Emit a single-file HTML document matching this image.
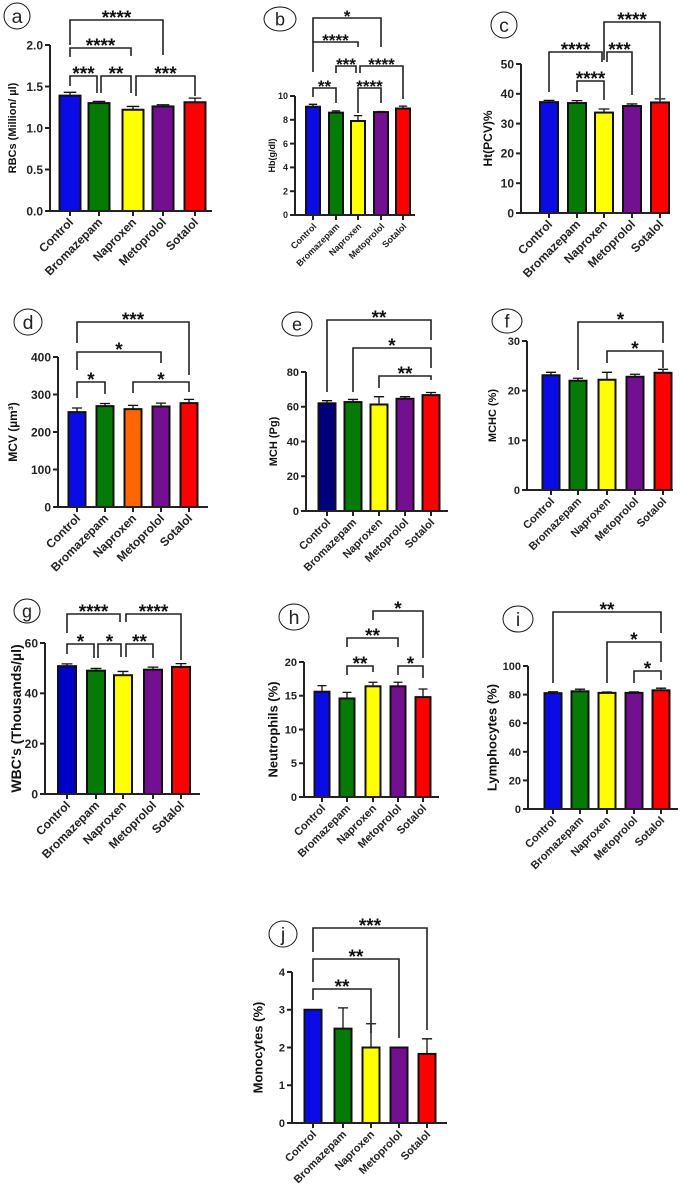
<!DOCTYPE html>
<html><head><meta charset="utf-8">
<style>
html,body{margin:0;padding:0;background:#fff;}
svg{display:block;font-family:"Liberation Sans",Arial,sans-serif;}
</style></head>
<body>
<svg id="fig" width="685" height="1194" viewBox="0 0 685 1194" xmlns="http://www.w3.org/2000/svg"></svg>
<script>
const categories = ["Control","Bromazepam","Naproxen","Metoprolol","Sotalol"];
const aVals=[1.39,1.30,1.22,1.26,1.31], aErrs=[0.04,0.02,0.04,0.02,0.05];
const bVals=[9.1,8.6,7.9,8.65,8.95], bErrs=[0.2,0.15,0.45,0.05,0.2];
const cVals=[37.2,36.9,33.7,35.9,37.1], cErrs=[0.6,0.8,1.2,0.7,1.2];
const dVals=[253,269,261,268,277], dErrs=[11,7,10,9,10];
const eVals=[62,62.7,61.3,64.6,66.7], eErrs=[1.5,1.5,4.5,1.2,1.5];
const fVals=[23.1,22.0,22.2,22.8,23.6], fErrs=[0.6,0.5,1.5,0.5,0.7];
const gVals=[50.8,49.0,47.2,49.4,50.5], gErrs=[0.9,0.9,1.5,1.0,1.3];
const hVals=[15.6,14.6,16.4,16.4,14.8], hErrs=[0.9,0.9,0.6,0.6,1.2];
const iVals=[81.0,82.3,81.2,81.2,83.0], iErrs=[1.0,1.5,0.6,0.7,1.5];
const jVals=[3.0,2.5,2.0,2.0,1.83], jErrs=[0,0.55,0.63,0,0.4];

const BLUE="#0b0be6",GREEN="#067a06",YEL="#ffff00",PUR="#730f91",RED="#ff0000";
const NS="http://www.w3.org/2000/svg";
const svg=document.getElementById('fig');
function mk(tag,attrs,parent){const e=document.createElementNS(NS,tag);for(const k in attrs)e.setAttribute(k,attrs[k]);(parent||svg).appendChild(e);return e;}

const panels=[
 {id:'a',vals:aVals,errs:aErrs,max:2,step:0.5,dec:1,x0:50,x1:212,yT:45,yB:211,cx:[70,99,133,163,195],bw:21,tf:12,cf:12,title:'RBCs (Million/ µl)',tx:12,ttf:11,circ:[17,16,13,13],
  colors:[BLUE,GREEN,YEL,PUR,RED],sf:19,
  br:[[0,3,20,'****',45,55,0,0],[0,2,48,'****',57,56,0,-2],[0,1,76,'***',86,93,0,-2],[1,2,76,'**',93,93,2,-2],[2,4,76,'***',96,96,3,0]]},
 {id:'b',vals:bVals,errs:bErrs,max:10,step:2,dec:0,x0:295,x1:415,yT:96,yB:215,cx:[313,336,358,381,403],bw:14,tf:9,cf:9,title:'Hb(g/dl)',tx:272,ttf:9,circ:[280,19,16,12],
  colors:[BLUE,GREEN,YEL,PUR,RED],sf:17,
  br:[[0,3,18,'*',42,47,0,0],[0,2,42,'****',72,47,0,0],[1,2,66,'***',73,73,0,-2],[2,4,66,'****',73,99,2,0],[0,1,88,'**',97,103,0,0],[2,3,88,'****',113,103,0,0]]},
 {id:'c',vals:cVals,errs:cErrs,max:50,step:10,dec:0,x0:521,x1:668,yT:64,yB:213,cx:[549,577,604,632,660],bw:18,tf:12,cf:12,title:'Ht(PCV)%',tx:488,ttf:12,circ:[504,25,13,13],
  colors:[BLUE,GREEN,YEL,PUR,RED],sf:19,
  br:[[2,4,22,'****',60,98,0,0],[0,2,52,'****',92,62,0,-2],[2,3,52,'***',62,95,3,0],[1,2,81,'****',92,100,0,0]]},
 {id:'d',vals:dVals,errs:dErrs,max:400,step:100,dec:0,x0:58,x1:208,yT:357,yB:507,cx:[77,105,133,161,189],bw:17,tf:12,cf:12,title:'MCV (µm³)',tx:13,ttf:12,circ:[28,322,14,13],
  colors:[BLUE,GREEN,"#ff6600",PUR,RED],sf:19,
  br:[[0,4,322,'***',343,375,0,0],[0,3,352,'*',370,363,0,0],[0,1,382,'*',398,394,0,0],[2,4,382,'*',393,392,0,0]]},
 {id:'e',vals:eVals,errs:eErrs,max:80,step:20,dec:0,x0:306,x1:448,yT:372,yB:511,cx:[327,353,379,405,431],bw:17,tf:11,cf:11,title:'MCH (Pg)',tx:273,ttf:11,circ:[297,324,15,12],
  colors:["#00007a",GREEN,YEL,PUR,RED],sf:19,
  br:[[0,4,320,'**',392,340,0,0],[1,4,348,'*',392,368,0,0],[2,4,376,'**',388,380,0,0]]},
 {id:'f',vals:fVals,errs:fErrs,max:30,step:10,dec:0,x0:527,x1:673,yT:341,yB:490,cx:[551,578,607,635,663],bw:17,tf:11,cf:11,title:'MCHC (%)',tx:492,ttf:11,circ:[507,321,15,12],
  colors:[BLUE,GREEN,YEL,PUR,RED],sf:19,
  br:[[1,4,322,'*',370,343,0,0],[2,4,351,'*',363,368,0,0]]},
 {id:'g',vals:gVals,errs:gErrs,max:60,step:20,dec:0,x0:45,x1:200,yT:643,yB:794,cx:[67,96,123,153,181],bw:18,tf:12,cf:12,title:"WBC's (Thousands/µl)",tx:16,ttf:14,circ:[27,611,13,12],
  colors:["#0000c8",GREEN,YEL,PUR,RED],sf:19,
  br:[[0,2,614,'****',633,622,0,-3],[2,4,614,'****',622,660,3,0],[0,1,644,'*',654,658,0,-2],[1,2,644,'*',658,657,2,-2],[2,3,644,'**',657,658,3,0]]},
 {id:'h',vals:hVals,errs:hErrs,max:20,step:5,dec:0,x0:304,x1:439,yT:662,yB:797,cx:[322,347,373,398,423],bw:15,tf:11,cf:11,title:'Neutrophils (%)',tx:273,ttf:13,circ:[294,617,15,13],
  colors:[BLUE,GREEN,YEL,PUR,RED],sf:19,
  br:[[2,4,611,'*',620,658,0,0],[1,3,638,'**',647,647,0,0],[1,2,666,'**',675,672,0,0],[3,4,666,'*',675,678,0,0]]},
 {id:'i',vals:iVals,errs:iErrs,max:100,step:20,dec:0,x0:528,x1:678,yT:666,yB:809,cx:[553,580,607,634,661],bw:17,tf:11,cf:11,title:'Lymphocytes (%)',tx:492,ttf:13,circ:[518,619,15,13],
  colors:[BLUE,GREEN,YEL,PUR,RED],sf:19,
  br:[[0,4,612,'**',683,633,0,0],[2,4,642,'*',683,662,0,0],[3,4,671,'*',683,680,0,0]]},
 {id:'j',vals:jVals,errs:jErrs,max:4,step:1,dec:0,x0:292,x1:447,yT:972,yB:1123,cx:[313,343,371,399,427],bw:17,tf:11,cf:11,title:'Monocytes (%)',tx:258,ttf:13,circ:[283,934,14,13],
  colors:[BLUE,GREEN,YEL,PUR,RED],sf:19,
  br:[[0,4,928,'***',952,1030,0,0],[0,3,959,'**',982,1038,0,0],[0,2,989,'**',1000,1033,0,0]]}
];

panels.forEach(p=>{
  const g=mk('g',{});
  
  
  const y=v=>p.yB-(v/p.max)*(p.yB-p.yT);
  // panel letter
  const c=mk('ellipse',{cx:p.circ[0],cy:p.circ[1],rx:p.circ[2],ry:p.circ[3],fill:'none',stroke:'#111','stroke-width':1},g);
  
  
  const lt=mk('text',{x:p.circ[0],y:p.circ[1]+p.circ[3]*0.55,'text-anchor':'middle','font-size':p.circ[3]*1.5,fill:'#222'},g);
  lt.textContent=p.id;
  
  
  // bars
  p.vals.forEach((v,k)=>{
    const cx=p.cx[k],top=y(v),et=y(v+p.errs[k]);
    if(p.errs[k]>0){
      const e=mk('path',{d:`M${cx} ${top}V${et}M${cx-p.bw*0.3} ${et}H${cx+p.bw*0.3}`,stroke:'#111','stroke-width':1.3,fill:'none'},g);
      
      
    }
    const r=mk('rect',{x:cx-p.bw/2,y:top,width:p.bw,height:p.yB-top,fill:p.colors[k],stroke:'#111','stroke-width':2},g);
    
    
  });
  // axes
  const ax=mk('path',{d:`M${p.x0} ${p.yT}V${p.yB}H${p.x1}`,stroke:'#222','stroke-width':2,fill:'none'},g);
  
  
  for(let v=0;v<=p.max+1e-9;v+=p.step){
    const yy=y(v);
    mk('line',{x1:p.x0-5,x2:p.x0,y1:yy,y2:yy,stroke:'#222','stroke-width':2},g);
    const t=mk('text',{x:p.x0-7,y:yy+p.tf*0.36,'text-anchor':'end','font-size':p.tf,'font-weight':'bold',fill:'#222'},g);
    t.textContent=v.toFixed(p.dec);
    
    
  }
  categories.forEach((cn,k)=>{
    const cx=p.cx[k];
    mk('line',{x1:cx,x2:cx,y1:p.yB,y2:p.yB+5,stroke:'#222','stroke-width':2},g);
    const t=mk('text',{x:cx+4,y:p.yB+12,'text-anchor':'end','font-size':p.cf,'font-weight':'bold',fill:'#222',transform:`rotate(-45 ${cx+4} ${p.yB+12})`},g);
    t.textContent=cn;
    
    
  });
  const ym=(p.yT+p.yB)/2;
  const tt=mk('text',{x:p.tx,y:ym,'text-anchor':'middle','font-size':p.ttf,'font-weight':'bold',fill:'#111',transform:`rotate(-90 ${p.tx} ${ym})`,dy:'0.35em'},g);
  tt.textContent=p.title;
  
  
  // significance brackets
  p.br.forEach(b=>{
    const xl=p.cx[b[0]]+b[6],xr=p.cx[b[1]]+b[7];
    const pth=mk('path',{d:`M${xl} ${b[4]}V${b[2]}H${xr}V${b[5]}`,stroke:'#222','stroke-width':1.6,fill:'none'},g);
    
    
    const st=mk('text',{x:(xl+xr)/2,y:b[2]+4,'text-anchor':'middle','font-size':p.sf,'font-weight':'bold',fill:'#111'},g);
    st.textContent=b[3];
    
    
  });
});
</script>
</body></html>
